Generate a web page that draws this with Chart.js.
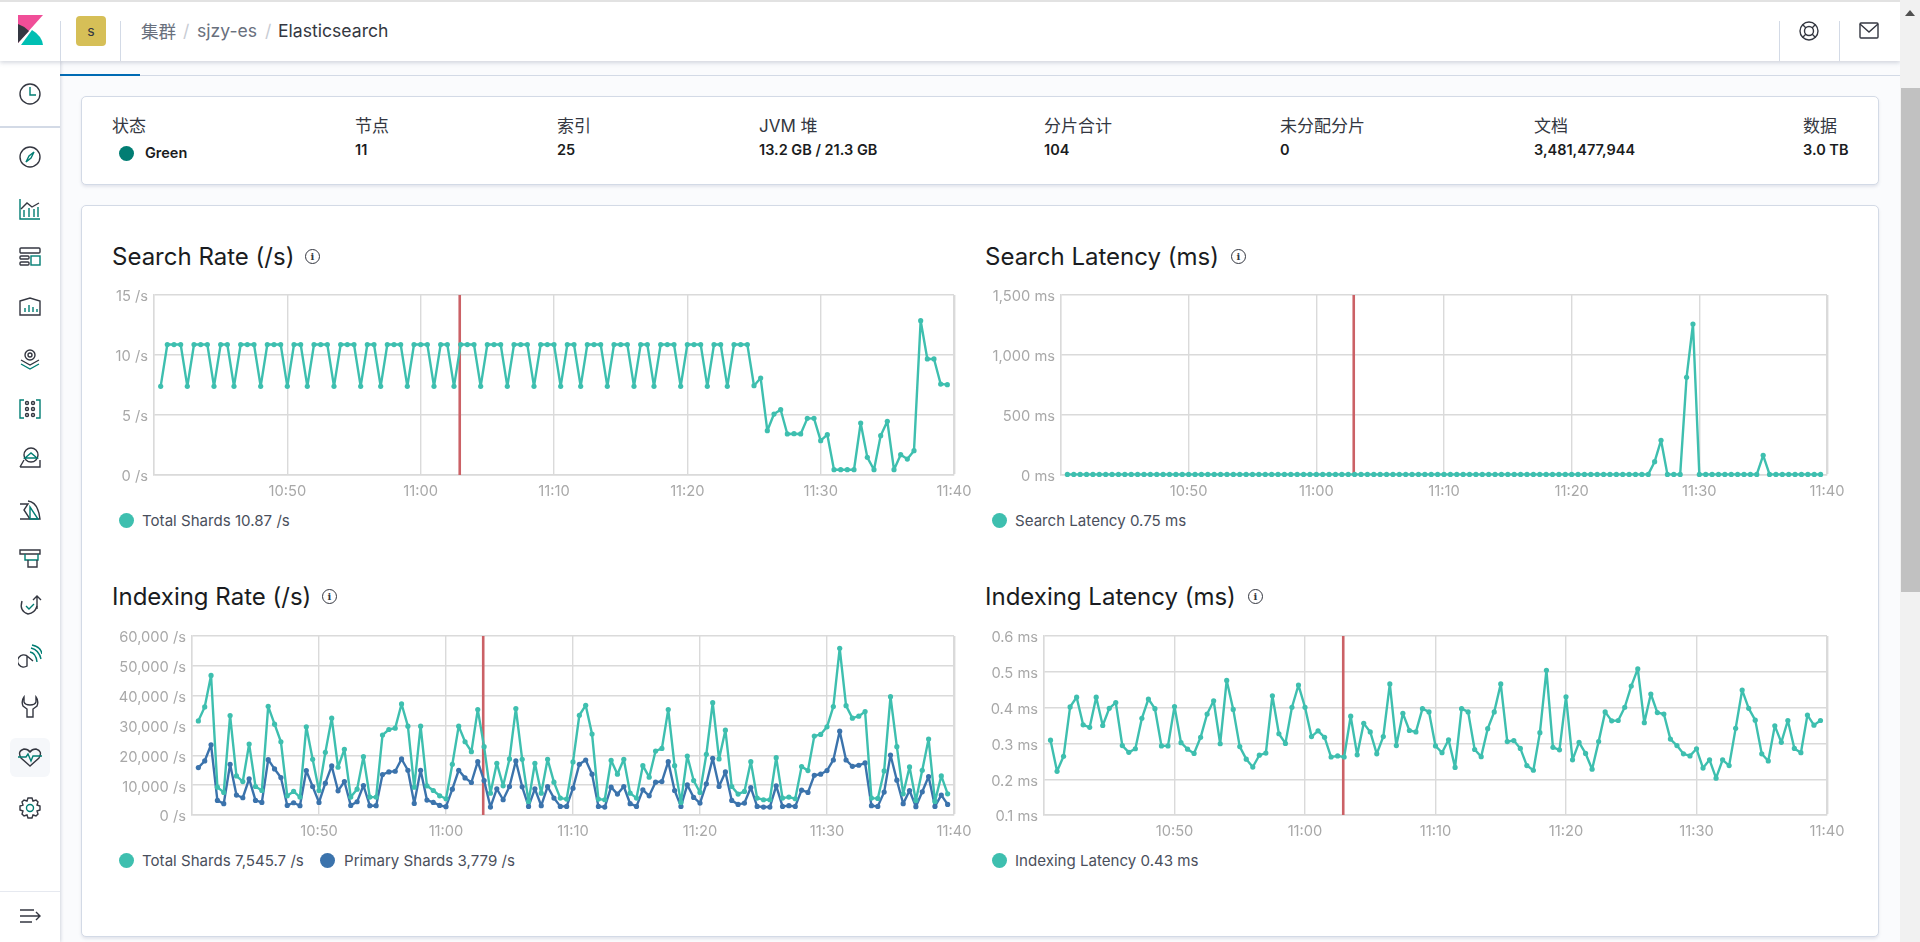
<!DOCTYPE html>
<html lang="zh">

<head>
  <meta charset="UTF-8" />
  <title>Elasticsearch</title>
  <script src="https://cdn.jsdelivr.net/npm/chart.js"></script>
  <style>
    html, body { margin: 0; height: 100%; overflow: hidden; background: #fafbfd; font-family: Inter, "Noto Sans CJK SC", sans-serif; color: #343741; }
    .abs { position: absolute; white-space: nowrap; }
    canvas { position: absolute; }
    #header { position: absolute; left: 0; top: 0; width: 1900px; height: 61px; background: #fff; border-top: 2px solid #e2e2e2; box-sizing: border-box; box-shadow: 0 2px 4px rgba(100,110,140,.25); z-index: 3; }
    #sidebar { position: absolute; left: 0; top: 61px; width: 60px; height: 881px; background: #fff; box-shadow: 1px 0 3px rgba(100,110,140,.25); z-index: 2; }
    .sep { position: absolute; width: 1px; background: #d3dae6; }
    .crumb { font-size: 17.6px; color: #69707d; }
    .panel { position: absolute; background: #fff; border: 1px solid #d3dae6; border-radius: 5px; box-sizing: border-box; box-shadow: 0 2px 3px rgba(100,110,140,.15); }
    .label { font-size: 17px; color: #343741; top: 112px; }
    .value { font-size: 14.5px; font-weight: 600; color: #1a1c21; top: 141px; }
    .title { font-size: 24px; color: #1a1c21; }
    .legend { font-size: 15.1px; color: #4a4f5c; }
    .dot { position: absolute; width: 15px; height: 15px; border-radius: 50%; }
    .info { position: absolute; width: 13px; height: 13px; border: 1.5px solid #343741; border-radius: 50%; font: 600 10px/13px "DejaVu Serif", serif; text-align: center; color: #343741; }
    svg.icon { position: absolute; left: 18px; width: 24px; height: 24px; fill: none; stroke: #343741; stroke-width: 1.4; }
    svg.icon .t { stroke: #017d73; }
  </style>
</head>

<body>
  <div id="header">
    <svg class="abs" style="left:18px;top:13px" width="25" height="30" viewBox="0 0 25 30">
      <path d="M0 0H25L0 28Z" fill="#f04e98" />
      <path d="M0 9V28L11 16Q6 11 0 9Z" fill="#343741" />
      <path d="M3 30H25Q24 21 14 15Z" fill="#00bfb3" />
    </svg>
    <div class="sep" style="left:60px;top:19px;height:40px"></div>
    <div class="abs" style="left:76px;top:14px;width:30px;height:30px;background:#d6bf57;border-radius:4px;text-align:center;font-size:14px;line-height:30px;color:#343741">s</div>
    <div class="sep" style="left:120px;top:19px;height:40px"></div>
    <div class="abs crumb" style="left:141px;top:16px">集群</div>
    <div class="abs crumb" style="left:183px;top:18px;color:#c8ccd4">/</div>
    <div class="abs crumb" style="left:197px;top:18px">sjzy-es</div>
    <div class="abs crumb" style="left:265px;top:18px;color:#c8ccd4">/</div>
    <div class="abs crumb" style="left:278px;top:18px;color:#343741">Elasticsearch</div>
    <div class="sep" style="left:1779px;top:19px;height:40px"></div>
    <div class="sep" style="left:1839px;top:19px;height:40px"></div>
    <svg class="abs" style="left:1799px;top:19px" width="20" height="20" viewBox="0 0 20 20" fill="none" stroke="#343741" stroke-width="1.4">
      <circle cx="10" cy="10" r="9" /><circle cx="10" cy="10" r="4.5" />
      <path d="M3.5 3.5L7 7M16.5 3.5L13 7M3.5 16.5L7 13M16.5 16.5L13 13" />
    </svg>
    <svg class="abs" style="left:1859px;top:20px" width="20" height="18" viewBox="0 0 20 18" fill="none" stroke="#343741" stroke-width="1.4">
      <rect x="1" y="1" width="18" height="15" rx="1" /><path d="M1 2L10 10L19 2" />
    </svg>
  </div>

  <div id="sidebar">
    <div class="abs" style="left:0;top:65px;width:60px;height:2px;background:#d3dae6"></div>
    <div class="abs" style="left:0;top:830px;width:60px;height:1px;background:#e6e9f0"></div>
    <div class="abs" style="left:10px;top:677px;width:40px;height:39px;background:#f5f7fa;border-radius:6px"></div>
    <svg class="icon" style="top:21px" viewBox="0 0 24 24"><circle cx="12" cy="12" r="10" /><path class="t" d="M12 5V13H18" /></svg>
    <svg class="icon" style="top:84px" viewBox="0 0 24 24"><circle cx="12" cy="12" r="10" /><path class="t" d="M16 7L13 13L8 17L11 11Z" /></svg>
    <svg class="icon" style="top:136px" viewBox="0 0 24 24"><path class="t" d="M2 2V22H22" /><path d="M3 12L9 6L14 10L21 6" /><path class="t" d="M6 20V13M11 20V11M16 20V12M20 20V10" /></svg>
    <svg class="icon" style="top:184px" viewBox="0 0 24 24"><rect x="2" y="3" width="20" height="5" rx="1" /><rect x="2" y="11" width="9" height="3" rx="1" /><rect x="2" y="17" width="9" height="3" rx="1" /><rect class="t" x="13" y="11" width="9" height="9" /></svg>
    <svg class="icon" style="top:234px" viewBox="0 0 24 24"><path d="M2 6L12 3L22 6V20H2Z" /><path class="t" d="M7 17V13M11 17V10M15 17V12M19 17V14" /></svg>
    <svg class="icon" style="top:285px" viewBox="0 0 24 24"><circle cx="12" cy="9" r="5" /><circle cx="12" cy="9" r="2" /><path d="M3 14L12 19L21 14" /><path class="t" d="M3 18L12 23L21 18" /></svg>
    <svg class="icon" style="top:336px" viewBox="0 0 24 24"><path class="t" d="M6 3H2V21H6M18 3H22V21H18" /><circle cx="9" cy="6" r="1.5" /><circle cx="15" cy="6" r="1.5" /><circle cx="9" cy="12" r="1.5" /><circle cx="15" cy="12" r="1.5" /><circle cx="9" cy="18" r="1.5" /><circle cx="15" cy="18" r="1.5" /></svg>
    <svg class="icon" style="top:385px" viewBox="0 0 24 24"><circle cx="13" cy="9" r="7" /><path d="M2 21L6 14M2 21H22V14" /><path class="t" d="M7 12L13 7L19 12Z" /></svg>
    <svg class="icon" style="top:437px" viewBox="0 0 24 24"><path d="M2 6H10L6 12L12 21H2" /><path d="M10 3Q20 4 22 21H13" /><path class="t" d="M12 9L20 21H12Z" /></svg>
    <svg class="icon" style="top:485px" viewBox="0 0 24 24"><path d="M2 4H22V8H2Z" /><path class="t" d="M7 8V14H20V8" /><path d="M10 14V21H19V14" /></svg>
    <svg class="icon" style="top:532px" viewBox="0 0 24 24"><path d="M4 8Q1 18 10 21Q17 20 19 13" /><path class="t" d="M8 13L11 16L16 11" /><path d="M19 16V3M15 7L19 3L23 7" /></svg>
    <svg class="icon" style="top:583px" viewBox="0 0 24 24"><path class="t" d="M12 8Q18 9 19 18M13 4Q21 6 23 15M14 1Q23 3 24 10" /><path d="M9 12A6 6 0 1 0 9 22L9 12L15 17" /></svg>
    <svg class="icon" style="top:634px" viewBox="0 0 24 24"><path d="M6 2V7Q7 10 12 10Q17 10 18 7V2Q21 6 19 11L15 14V22H9V14L5 11Q3 6 6 2Z" /></svg>
    <svg class="icon" style="top:684px" viewBox="0 0 24 24"><path d="M12 21L3 13Q-1 6 6 4Q10 4 12 7Q14 4 18 4Q25 6 21 13Z" /><path class="t" d="M0 12H8L10 9L13 16L15 11H24" /></svg>
    <svg class="icon" style="top:735px" viewBox="0 0 24 24"><path d="M10 2H14L15 5L18 4L20 6L19 9L22 10V14L19 15L20 18L18 20L15 19L14 22H10L9 19L6 20L4 18L5 15L2 14V10L5 9L4 6L6 4L9 5Z" /><circle class="t" cx="12" cy="12" r="3.5" /></svg>
    <svg class="icon" style="top:843px" viewBox="0 0 24 24"><path d="M2 6H16M2 12H22M2 18H14M18 8L22 12L18 16" /></svg>
  </div>

  <div class="abs" style="left:60px;top:75px;width:1840px;height:1px;background:#d3dae6"></div>
  <div class="abs" style="left:60px;top:74px;width:80px;height:2px;background:#006bb4"></div>

  <div class="panel" style="left:81px;top:96px;width:1798px;height:89px"></div>
  <div class="abs label" style="left:112px">状态</div>
  <div class="abs label" style="left:355px">节点</div>
  <div class="abs label" style="left:557px">索引</div>
  <div class="abs label" style="left:759px">JVM 堆</div>
  <div class="abs label" style="left:1044px">分片合计</div>
  <div class="abs label" style="left:1280px">未分配分片</div>
  <div class="abs label" style="left:1534px">文档</div>
  <div class="abs label" style="left:1803px">数据</div>
  <div class="dot" style="left:119px;top:146px;background:#017d73"></div>
  <div class="abs value" style="left:145px;top:144px">Green</div>
  <div class="abs value" style="left:355px">11</div>
  <div class="abs value" style="left:557px">25</div>
  <div class="abs value" style="left:759px">13.2 GB / 21.3 GB</div>
  <div class="abs value" style="left:1044px">104</div>
  <div class="abs value" style="left:1280px">0</div>
  <div class="abs value" style="left:1534px">3,481,477,944</div>
  <div class="abs value" style="left:1803px">3.0 TB</div>

  <div class="panel" style="left:81px;top:205px;width:1798px;height:732px"></div>

  <div class="abs title" style="left:112px;top:242px">Search Rate (/s)</div>
  <div class="info" style="left:305px;top:249px">i</div>
  <div class="abs title" style="left:985px;top:242px">Search Latency (ms)</div>
  <div class="info" style="left:1231px;top:249px">i</div>
  <div class="abs title" style="left:112px;top:582px">Indexing Rate (/s)</div>
  <div class="info" style="left:322px;top:589px">i</div>
  <div class="abs title" style="left:985px;top:582px">Indexing Latency (ms)</div>
  <div class="info" style="left:1248px;top:589px">i</div>

  <canvas id="searchRate"></canvas>
  <canvas id="searchLatency"></canvas>
  <canvas id="indexingRate"></canvas>
  <canvas id="indexingLatency"></canvas>

  <div class="dot" style="left:119px;top:513px;background:#3ebfaf"></div>
  <div class="abs legend" style="left:142px;top:511px">Total Shards 10.87 /s</div>
  <div class="dot" style="left:992px;top:513px;background:#3ebfaf"></div>
  <div class="abs legend" style="left:1015px;top:511px">Search Latency 0.75 ms</div>
  <div class="dot" style="left:119px;top:853px;background:#3ebfaf"></div>
  <div class="abs legend" style="left:142px;top:851px">Total Shards 7,545.7 /s</div>
  <div class="dot" style="left:320px;top:853px;background:#3b73ac"></div>
  <div class="abs legend" style="left:344px;top:851px">Primary Shards 3,779 /s</div>
  <div class="dot" style="left:992px;top:853px;background:#3ebfaf"></div>
  <div class="abs legend" style="left:1015px;top:851px">Indexing Latency 0.43 ms</div>

  <!-- scrollbar -->
  <div class="abs" style="left:1900px;top:0;width:20px;height:942px;background:#f1f1f1;z-index:4"></div>
  <div class="abs" style="left:1901px;top:88px;width:19px;height:504px;background:#c1c1c1;z-index:5"></div>
  <div class="abs" style="left:1905px;top:10px;width:0;height:0;border:5px solid transparent;border-top:0;border-bottom:6px solid #505050;z-index:5"></div>

  <script>
    // x axis: 30 second samples, 0 = 10:40, 120 = 11:40
    const timeLabels = ['', '10:50', '11:00', '11:10', '11:20', '11:30', '11:40'];
    const cursorAt = 45.86;

    const searchRateTicks = ['0 /s', '5 /s', '10 /s', '15 /s'];
    const searchLatencyTicks = ['0 ms', '500 ms', '1,000 ms', '1,500 ms'];
    const indexingRateTicks = ['0 /s', '10,000 /s', '20,000 /s', '30,000 /s', '40,000 /s', '50,000 /s', '60,000 /s'];
    const indexingLatencyTicks = ['0.1 ms', '0.2 ms', '0.3 ms', '0.4 ms', '0.5 ms', '0.6 ms'];

    const searchRate = [
      7.39, 10.87, 10.87, 10.87, 7.39, 10.87, 10.87, 10.87, 7.39, 10.87,
      10.87, 7.39, 10.87, 10.87, 10.87, 7.39, 10.87, 10.87, 10.87, 7.39,
      10.87, 10.87, 7.39, 10.87, 10.87, 10.87, 7.39, 10.87, 10.87, 10.87,
      7.39, 10.87, 10.87, 7.39, 10.87, 10.87, 10.87, 7.39, 10.87, 10.87,
      10.87, 7.39, 10.87, 10.87, 7.39, 10.87, 10.87, 10.87, 7.39, 10.87,
      10.87, 10.87, 7.39, 10.87, 10.87, 10.87, 7.39, 10.87, 10.87, 10.87,
      7.39, 10.87, 10.87, 7.39, 10.87, 10.87, 10.87, 7.39, 10.87, 10.87,
      10.87, 7.39, 10.87, 10.87, 7.39, 10.87, 10.87, 10.87, 7.39, 10.87,
      10.87, 10.87, 7.39, 10.87, 10.87, 7.39, 10.87, 10.87, 10.87, 7.44,
      8.08, 3.69, 5.08, 5.44, 3.42, 3.44, 3.42, 4.72, 4.72, 2.86,
      3.36, 0.44, 0.44, 0.44, 0.44, 4.33, 1.47, 0.44, 3.28, 4.47,
      0.44, 1.69, 1.33, 2.03, 12.86, 9.67, 9.67, 7.58, 7.53
    ];

    const searchLatency = [
      5, 5, 5, 5, 5, 5, 5, 5, 5, 5,
      5, 5, 5, 5, 5, 5, 5, 5, 5, 5,
      5, 5, 5, 5, 5, 5, 5, 5, 5, 5,
      5, 5, 5, 5, 5, 5, 5, 5, 5, 5,
      5, 5, 5, 5, 5, 5, 5, 5, 5, 5,
      5, 5, 5, 5, 5, 5, 5, 5, 5, 5,
      5, 5, 5, 5, 5, 5, 5, 5, 5, 5,
      5, 5, 5, 5, 5, 5, 5, 5, 5, 5,
      5, 5, 5, 5, 5, 5, 5, 5, 5, 5,
      5, 5, 111, 289, 5, 5, 5, 814, 1258, 5,
      5, 5, 5, 5, 5, 5, 5, 5, 5, 164,
      5, 5, 5, 5, 5, 5, 5, 5, 5
    ];

    const indexingTotal = [
      31550, 36220, 46770, 9330, 7560, 33330, 13110, 11220, 23780, 9550,
      8220, 36440, 30440, 24550, 6440, 7890, 6000, 29550, 18660, 8220,
      21000, 32440, 16000, 22000, 6000, 8670, 19550, 6000, 6000, 26780,
      28660, 29110, 37220, 29780, 9330, 29780, 9780, 8220, 6440, 5440,
      17000, 29780, 24550, 21220, 35330, 22890, 7330, 17330, 9780, 18780,
      35660, 18660, 4560, 17330, 7330, 18660, 11000, 5670, 5330, 17780,
      33440, 36770, 27110, 5330, 5110, 18330, 13670, 18660, 7330, 5670,
      16550, 12670, 21440, 22330, 35330, 16550, 4220, 19780, 11550, 7560,
      20330, 37660, 18780, 28440, 9550, 7000, 7890, 17890, 5670, 5110,
      5110, 19220, 5670, 6000, 5440, 16220, 14890, 26440, 27000, 29550,
      36330, 55880, 36660, 32440, 33110, 34660, 5670, 5560, 14780, 39660,
      22890, 7110, 16110, 4890, 15000, 25440, 4560, 13110, 7110
    ];

    const indexingPrimary = [
      15890, 18110, 23550, 4890, 3780, 17000, 6670, 5780, 12110, 4890,
      4220, 18550, 15440, 12550, 3220, 4110, 3110, 14890, 9550, 4220,
      10670, 16440, 8110, 11220, 3220, 4440, 9890, 3110, 3110, 13550,
      14440, 14670, 18780, 15000, 3890, 15000, 5000, 4220, 3220, 2780,
      8670, 15000, 12440, 10890, 17890, 11550, 2670, 8780, 5110, 9550,
      18110, 9440, 2890, 8780, 3110, 9550, 5670, 2890, 2890, 9000,
      17000, 18440, 13670, 2890, 2670, 9330, 7000, 9550, 3780, 2890,
      8440, 6440, 11000, 11220, 17890, 8220, 2890, 10110, 5890, 4000,
      10440, 19000, 9550, 14440, 4890, 3560, 4000, 9220, 2890, 2670,
      2670, 9780, 2890, 3110, 2890, 8330, 7560, 13330, 13670, 14890,
      18440, 28110, 18440, 16330, 16670, 17440, 3110, 2890, 7670, 20110,
      11670, 3780, 8220, 2780, 7780, 12890, 2890, 6670, 3560
    ];

    const indexingLatency = [
      0.309, 0.222, 0.264, 0.402, 0.429, 0.352, 0.345, 0.429, 0.350, 0.398,
      0.414, 0.294, 0.275, 0.285, 0.370, 0.424, 0.397, 0.293, 0.293, 0.403,
      0.302, 0.284, 0.272, 0.317, 0.382, 0.419, 0.299, 0.476, 0.395, 0.291,
      0.256, 0.234, 0.267, 0.273, 0.433, 0.327, 0.300, 0.401, 0.463, 0.401,
      0.319, 0.335, 0.317, 0.262, 0.265, 0.262, 0.376, 0.268, 0.356, 0.332,
      0.271, 0.319, 0.466, 0.294, 0.384, 0.336, 0.332, 0.397, 0.388, 0.293,
      0.274, 0.310, 0.233, 0.397, 0.388, 0.283, 0.263, 0.341, 0.388, 0.466,
      0.305, 0.308, 0.286, 0.238, 0.225, 0.330, 0.504, 0.289, 0.282, 0.430,
      0.254, 0.303, 0.272, 0.228, 0.305, 0.388, 0.363, 0.364, 0.401, 0.460,
      0.508, 0.358, 0.438, 0.386, 0.382, 0.312, 0.294, 0.271, 0.265, 0.285,
      0.231, 0.254, 0.203, 0.254, 0.238, 0.342, 0.449, 0.398, 0.365, 0.271,
      0.251, 0.349, 0.303, 0.364, 0.286, 0.274, 0.379, 0.351, 0.364
    ];

    const TEAL = '#3ebfaf';
    const BLUE = '#3b73ac';
    const GRID = '#dadada';
    const TICK = '#a8a8a8';
    const PAD_LEFT = 79, PAD_RIGHT = 28, PAD_TOP = 16, PAD_BOTTOM = 30;

    function lineSet(values, color) {
      return {
        data: values.map((v, i) => ({ x: i + 1, y: v })),
        borderColor: color,
        backgroundColor: color,
        borderWidth: 2.4,
        borderJoinStyle: 'round',
        pointRadius: 2.6,
        pointBorderWidth: 0,
        clip: false
      };
    }

    // plot = [left, top, right, bottom] in page pixels
    function drawChart(id, plot, series, yMin, yMax, yStep, yLabels) {
      const el = document.getElementById(id);
      const w = plot[2] - plot[0] + PAD_LEFT + PAD_RIGHT;
      const h = plot[3] - plot[1] + PAD_TOP + PAD_BOTTOM;
      el.width = w;
      el.height = h;
      el.style.cssText = `left:${plot[0] - PAD_LEFT}px;top:${plot[1] - PAD_TOP}px;width:${w}px;height:${h}px`;
      const cursor = {
        data: [{ x: cursorAt, y: yMin }, { x: cursorAt, y: yMax }],
        borderColor: '#cb6166',
        borderWidth: 2.6,
        pointRadius: 0
      };
      new Chart(el, {
        type: 'line',
        data: { datasets: series.concat([cursor]) },
        options: {
          responsive: false,
          animation: false,
          devicePixelRatio: 1,
          layout: { padding: { top: PAD_TOP, right: PAD_RIGHT, left: 0, bottom: 0 } },
          plugins: { legend: { display: false }, tooltip: { enabled: false } },
          scales: {
            x: {
              type: 'linear', min: 0, max: 120,
              grid: { color: GRID, lineWidth: c => (c.index === 6 ? 2.4 : 1.4), drawTicks: false },
              border: { color: GRID, width: 1.4 },
              ticks: {
                stepSize: 20, autoSkip: false, maxRotation: 0, padding: 8,
                color: TICK, font: { family: 'Inter', size: 14.7 },
                callback: (v, i) => timeLabels[i]
              },
              afterFit: s => { s.height = PAD_BOTTOM; }
            },
            y: {
              min: yMin, max: yMax,
              grid: { color: GRID, lineWidth: 1.4, drawTicks: false },
              border: { color: GRID, width: 1.4 },
              ticks: {
                stepSize: yStep, autoSkip: false, padding: 6, labelOffset: 2,
                color: TICK, font: { family: 'Inter', size: 14.7 },
                callback: (v, i) => yLabels[i]
              },
              afterFit: s => { s.width = PAD_LEFT; }
            }
          }
        }
      });
    }

    drawChart('searchRate', [154, 295, 954, 475], [lineSet(searchRate, TEAL)], 0, 15, 5, searchRateTicks);
    drawChart('searchLatency', [1061, 295, 1827, 475], [lineSet(searchLatency, TEAL)], 0, 1500, 500, searchLatencyTicks);
    drawChart('indexingRate', [192, 636, 954, 815], [lineSet(indexingTotal, TEAL), lineSet(indexingPrimary, BLUE)], 0, 60000, 10000, indexingRateTicks);
    drawChart('indexingLatency', [1044, 636, 1827, 815], [lineSet(indexingLatency, TEAL)], 0.1, 0.6, 0.1, indexingLatencyTicks);
  </script>
</body>

</html>
